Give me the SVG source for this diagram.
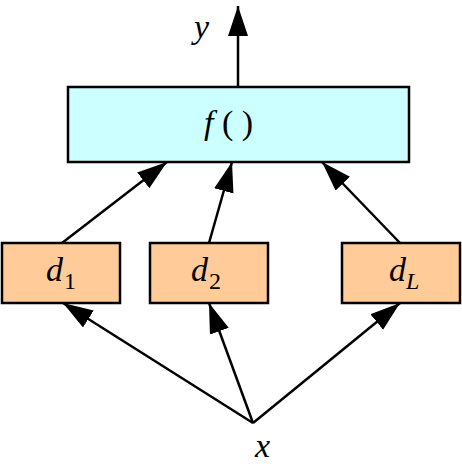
<svg xmlns="http://www.w3.org/2000/svg" width="462" height="467" viewBox="0 0 462 467">
<style>
.fbox{fill:#ccffff;stroke:#000;stroke-width:2.5}
.dbox{fill:#ffcc99;stroke:#000;stroke-width:2.5}
.t{font-family:'Liberation Serif','Times New Roman','DejaVu Serif',serif;font-style:italic;font-size:34px;fill:#000}
.s{font-family:'Liberation Serif','Times New Roman','DejaVu Serif',serif;font-size:24px;fill:#000}
.si{font-family:'Liberation Serif','Times New Roman','DejaVu Serif',serif;font-style:italic;font-size:24px;fill:#000}
.c line{stroke:#000;stroke-width:2.5}
</style>
<defs>
<marker id="ah" markerUnits="userSpaceOnUse" markerWidth="32" markerHeight="22" refX="30" refY="10" orient="auto">
<path d="M0,0 L30,10 L0,20 Z" fill="#000"/>
</marker>
</defs>
<g id="f">
<rect class="fbox" x="68" y="87" width="341" height="75"/>
<text class="t" x="204" y="134">f</text>
<text class="t" x="222" y="134" style="font-style:normal">( )</text>
</g>
<g id="d1">
<rect class="dbox" x="2" y="243" width="118" height="60"/>
<text class="t" x="46" y="281">d</text><text class="s" x="64" y="289">1</text>
</g>
<g id="d2">
<rect class="dbox" x="150" y="243" width="118" height="60"/>
<text class="t" x="191" y="281">d</text><text class="s" x="209" y="289">2</text>
</g>
<g id="dL">
<rect class="dbox" x="342" y="243" width="118" height="60"/>
<text class="t" x="389" y="281">d</text><text class="si" x="406" y="289">L</text>
</g>
<g id="labels">
<text class="t" x="194" y="38">y</text>
<text class="t" x="255" y="457">x</text>
</g>
<g class="c" id="connectors">
<line x1="238" y1="87" x2="238" y2="6" marker-end="url(#ah)"/>
<line x1="62" y1="243" x2="167" y2="162" marker-end="url(#ah)"/>
<line x1="209" y1="243" x2="232" y2="162" marker-end="url(#ah)"/>
<line x1="400" y1="243" x2="322" y2="162" marker-end="url(#ah)"/>
<line x1="253" y1="423" x2="63" y2="303" marker-end="url(#ah)"/>
<line x1="253" y1="423" x2="209" y2="303" marker-end="url(#ah)"/>
<line x1="253" y1="423" x2="400" y2="303" marker-end="url(#ah)"/>
</g>
</svg>
